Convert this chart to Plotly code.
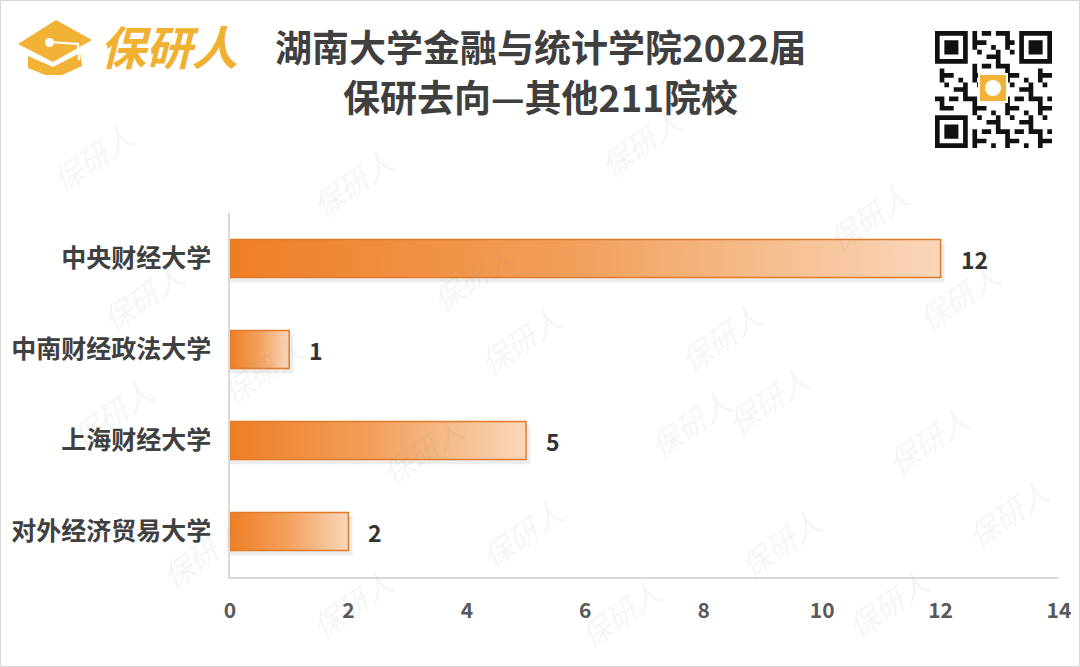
import plotly.graph_objects as go

# ---------------- data ----------------
categories = ["中央财经大学", "中南财经政法大学", "上海财经大学", "对外经济贸易大学"]
values = [12, 1, 5, 2]
x_ticks = [0, 2, 4, 6, 8, 10, 12, 14]
title_line1 = "湖南大学金融与统计学院2022届"
title_line2 = "保研去向—其他211院校"
brand = "保研人"

# ---------------- geometry helpers ----------------
W, H = 1080, 667
ML, MR, MT, MB = 230, 21, 213, 90
PW, PH = W - ML - MR, H - MT - MB


def px(x):
    return (x - ML) / PW


def py(y):
    return (H - MB - y) / PH


BAR_HALF = 0.21
fig = go.Figure()

# watermark texts (decorative)
wm_pts = [(40, 110), (300, 135), (640, 95), (920, 170), (90, 250), (420, 230),
          (720, 290), (1010, 250), (210, 370), (520, 340), (820, 400), (60, 460),
          (370, 450), (690, 470), (980, 440), (150, 600), (470, 580), (780, 590),
          (1060, 560), (300, 650), (620, 660), (940, 650)]
annotations = []
for (wx, wy) in wm_pts:
    annotations.append(dict(x=px(wx), y=py(wy), xref="paper", yref="paper",
                            text="<i>" + brand + "</i>", showarrow=False, textangle=-35,
                            font=dict(size=30, color="rgba(150,150,150,0.10)",
                                      family="Noto Sans CJK SC")))

# bars: shadow + gradient fill
for i, v in enumerate(values):
    sx = 0.07
    sy = 0.05
    fig.add_trace(go.Scatter(
        x=[0, v + sx, v + sx, 0, 0],
        y=[i - BAR_HALF + sy, i - BAR_HALF + sy, i + BAR_HALF + sy, i + BAR_HALF + sy, i - BAR_HALF + sy],
        fill="toself", mode="lines", line=dict(width=0),
        fillcolor="rgba(0,0,0,0.07)", hoverinfo="skip", showlegend=False))
    fig.add_trace(go.Scatter(
        x=[0, v, v, 0, 0],
        y=[i - BAR_HALF, i - BAR_HALF, i + BAR_HALF, i + BAR_HALF, i - BAR_HALF],
        fill="toself", mode="lines",
        line=dict(color="#E27A2A", width=1.5),
        fillgradient=dict(type="horizontal",
                          colorscale=[[0, "#EE7E25"], [0.5, "#F2A15E"], [1, "#F9D7BA"]]),
        hoverinfo="skip", showlegend=False, name=categories[i]))
    annotations.append(dict(x=v, y=i, xref="x", yref="y", text=str(v),
                            showarrow=False, xanchor="left", xshift=18,
                            font=dict(size=23, color="#333333",
                                      family="Noto Sans CJK SC", weight="bold")))

# title (two lines)
for txt, ty in [(title_line1, 46), (title_line2, 96)]:
    annotations.append(dict(x=px(540), y=py(ty), xref="paper", yref="paper",
                            text=txt, showarrow=False, borderpad=0,
                            xanchor="center", yanchor="middle", align="center",
                            font=dict(size=37, color="#3F3F3F",
                                      family="Noto Sans CJK SC", weight="bold")))
# brand text
annotations.append(dict(x=px(98), y=py(45), xref="paper", yref="paper",
                        text="<i>" + brand + "</i>", showarrow=False,
                        xanchor="left", yanchor="middle",
                        font=dict(size=46, color="#F0B030",
                                  family="Noto Sans CJK SC", weight="bold")))

shapes = []
# border
shapes.append(dict(type="rect", xref="paper", yref="paper",
                   x0=px(0.5), x1=px(1079.5), y0=py(0.5), y1=py(666.5),
                   line=dict(color="#D6D6D6", width=1), layer="below"))


def path_from(points):
    return "M " + " L ".join(f"{px(a):.5f},{py(b):.5f}" for a, b in points) + " Z"


gold = "#F2B236"
# cap diamond
shapes.append(dict(type="path", xref="paper", yref="paper",
                   path=path_from([(18, 44), (56, 20), (92, 40), (53, 62)]),
                   fillcolor=gold, line=dict(width=0)))
# cap bowl
shapes.append(dict(type="path", xref="paper", yref="paper",
                   path=path_from([(28, 56), (53, 67), (80, 53), (82, 66), (62, 75),
                                   (45, 75), (28, 68)]),
                   fillcolor=gold, line=dict(width=0)))
# tassel
shapes.append(dict(type="path", xref="paper", yref="paper",
                   path=path_from([(50, 41), (79, 43), (80, 60), (78, 60), (77, 45), (50, 43)]),
                   fillcolor="white", line=dict(width=0)))
shapes.append(dict(type="circle", xref="paper", yref="paper",
                   x0=px(45), x1=px(54), y0=py(47), y1=py(38),
                   fillcolor="white", line=dict(width=0)))

# QR code (decorative)
QX0, QY0, QS, N = 935, 31, 117, 25
m = QS / N
mods = []
for r in range(N):
    for c in range(N):
        in_f = None
        for (fr, fc) in [(0, 0), (0, N - 7), (N - 7, 0)]:
            if fr <= r < fr + 7 and fc <= c < fc + 7:
                rr, cc = r - fr, c - fc
                in_f = (rr in (0, 6) or cc in (0, 6)) or (2 <= rr <= 4 and 2 <= cc <= 4)
        if in_f is None:
            if (r < 8 and c < 8) or (r < 8 and c >= N - 8) or (r >= N - 8 and c < 8):
                continue
            on = ((r * r * 3 + c * 7 + r * c * 5 + c * c) % 7) < 3
        else:
            on = in_f
        if on:
            x0, y0 = QX0 + c * m, QY0 + r * m
            mods.append(path_from([(x0, y0), (x0 + m, y0), (x0 + m, y0 + m), (x0, y0 + m)]))
shapes.append(dict(type="path", xref="paper", yref="paper", path=" ".join(mods),
                   fillcolor="#111111", line=dict(width=0)))
shapes.append(dict(type="rect", xref="paper", yref="paper",
                   x0=px(978), x1=px(1008), y0=py(103), y1=py(73),
                   fillcolor="white", line=dict(width=0)))
shapes.append(dict(type="rect", xref="paper", yref="paper",
                   x0=px(980), x1=px(1006), y0=py(101), y1=py(75),
                   fillcolor=gold, line=dict(width=0)))
shapes.append(dict(type="circle", xref="paper", yref="paper",
                   x0=px(985), x1=px(1001), y0=py(96), y1=py(80),
                   fillcolor="white", line=dict(width=0)))

fig.update_layout(
    width=W, height=H,
    margin=dict(l=ML, r=MR, t=MT, b=MB, autoexpand=False),
    paper_bgcolor="white", plot_bgcolor="rgba(0,0,0,0)",
    showlegend=False,
    annotations=annotations, shapes=shapes,
    xaxis=dict(range=[0, 14], tickvals=x_ticks, showgrid=False, zeroline=False,
               showline=True, linecolor="#D9D9D9", linewidth=1.5, ticks="",
               ticklabelstandoff=14, automargin=False,
               tickfont=dict(size=21, color="#595959", family="Noto Sans CJK SC",
                             weight="bold")),
    yaxis=dict(range=[3.5, -0.5], tickvals=list(range(len(categories))),
               ticktext=categories, showgrid=False, zeroline=False,
               showline=True, linecolor="#D9D9D9", linewidth=1.5, ticks="",
               ticklabelstandoff=12, automargin=False,
               tickfont=dict(size=25, color="#404040", family="Noto Sans CJK SC",
                             weight="bold")),
)

fig.write_html("out.html", config={"displayModeBar": False},
               post_script="document.body.style.margin='0';document.body.style.overflow='hidden';")
